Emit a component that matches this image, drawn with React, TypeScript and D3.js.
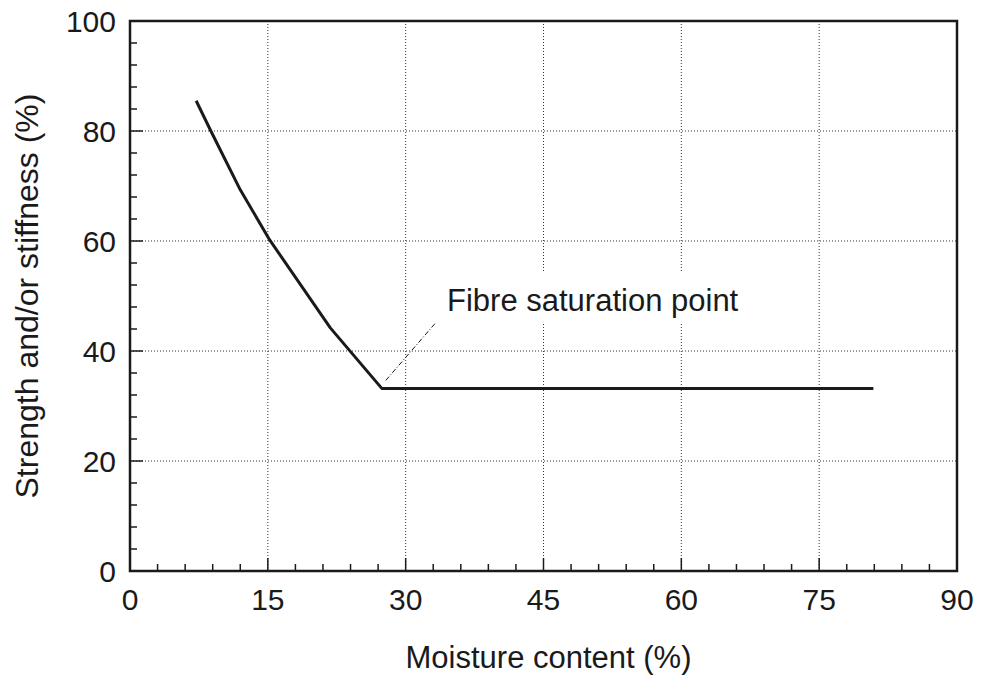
import * as d3 from 'd3';

// moisture content (%) vs strength and/or stiffness (%)
const moisture = [7.2, 8.8, 12.0, 15.2, 21.8, 27.4, 80.9];
const strength = [85.5, 80.0, 69.3, 60.2, 44.2, 33.2, 33.2];
const xTicks = [0, 15, 30, 45, 60, 75, 90];
const yTicks = [0, 20, 40, 60, 80, 100];
const fsp = { x: 27.4, y: 33.2, label: 'Fibre saturation point' };

const W = 983;
const H = 695;
const margin = { top: 21, right: 26, bottom: 124, left: 130 };
const font = '"Liberation Sans", Arial, Helvetica, sans-serif';
const ink = '#1a1a1a';

export default function App() {
  const iw = W - margin.left - margin.right;
  const ih = H - margin.top - margin.bottom;

  const x = d3.scaleLinear().domain([0, 90]).range([0, iw]);
  const y = d3.scaleLinear().domain([0, 100]).range([ih, 0]);

  const minorX = d3.range(0, 90, 3).filter(v => v % 15 !== 0);
  const minorY = d3.range(0, 100, 4).filter(v => v % 20 !== 0);

  const line = d3.line<number>()
    .x((_, i) => x(moisture[i]))
    .y(d => y(d));

  // leader line from the knee up to the label
  const lx0 = x(fsp.x) + 4;
  const ly0 = y(fsp.y) - 8;
  const lx1 = x(fsp.x + 5.9);
  const ly1 = y(fsp.y + 12);

  return (
    <svg width={W} height={H} style={{ position: 'absolute', left: 0, top: 0, background: '#fff' }}>
      <g transform={`translate(${margin.left},${margin.top})`}>
        {/* grid */}
        {xTicks.slice(1, -1).map(t => (
          <line key={`gx${t}`} x1={x(t)} x2={x(t)} y1={0} y2={ih}
            stroke="#333" strokeWidth={1} strokeDasharray="1,2" />
        ))}
        {yTicks.slice(1, -1).map(t => (
          <line key={`gy${t}`} x1={0} x2={iw} y1={y(t)} y2={y(t)}
            stroke="#333" strokeWidth={1} strokeDasharray="1,2" />
        ))}

        {/* label box hides grid */}
        <rect x={x(33.8)} y={y(54.4)} width={x(68.8) - x(33.8)} height={y(45.3) - y(54.4)} fill="#fff" />
        <text x={x(34.5)} y={y(47.2)} fontFamily={font} fontSize={31} fill={ink}>{fsp.label}</text>

        <line x1={lx0} y1={ly0} x2={lx1} y2={ly1} stroke={ink} strokeWidth={1}
          strokeDasharray="5,2,1,2" />

        {/* ticks, inward */}
        {xTicks.slice(1, -1).map(t => (
          <line key={`tx${t}`} x1={x(t)} x2={x(t)} y1={ih} y2={ih - 13} stroke={ink} strokeWidth={1.5} />
        ))}
        {minorX.map(t => (
          <line key={`mx${t}`} x1={x(t)} x2={x(t)} y1={ih} y2={ih - 7} stroke={ink} strokeWidth={1.5} />
        ))}
        {yTicks.slice(1, -1).map(t => (
          <line key={`ty${t}`} x1={0} x2={13} y1={y(t)} y2={y(t)} stroke={ink} strokeWidth={1.5} />
        ))}
        {minorY.map(t => (
          <line key={`my${t}`} x1={0} x2={7} y1={y(t)} y2={y(t)} stroke={ink} strokeWidth={1.5} />
        ))}

        {/* curve */}
        <path d={line(strength) ?? ''} fill="none" stroke={ink} strokeWidth={3} strokeLinejoin="round" />

        {/* frame */}
        <rect x={0} y={0} width={iw} height={ih} fill="none" stroke={ink} strokeWidth={2.5} />

        {/* tick labels */}
        {xTicks.map(t => (
          <text key={`lx${t}`} x={x(t)} y={ih + 39} textAnchor="middle"
            fontFamily={font} fontSize={30} fill={ink}>{t}</text>
        ))}
        {yTicks.map(t => (
          <text key={`ly${t}`} x={-14} y={y(t) + 11} textAnchor="end"
            fontFamily={font} fontSize={30} fill={ink}>{t}</text>
        ))}

        {/* axis titles */}
        <text x={iw / 2 + 5} y={ih + 97} textAnchor="middle" fontFamily={font} fontSize={31} fill={ink}>
          Moisture content (%)
        </text>
        <text transform={`translate(${-92},${ih / 2}) rotate(-90)`} textAnchor="middle"
          fontFamily={font} fontSize={32} fill={ink}>
          Strength and/or stiffness (%)
        </text>
      </g>
    </svg>
  );
}
